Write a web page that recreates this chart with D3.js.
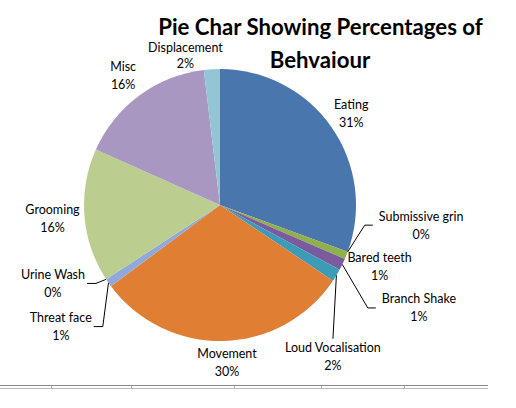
<!DOCTYPE html>
<html><head><meta charset="utf-8">
<script src="https://cdn.jsdelivr.net/npm/d3@7"></script>
<style>
html,body{margin:0;padding:0;background:#fff;}
svg{display:block;}
</style></head>
<body>
<svg id="chart" width="516" height="408"></svg>
<script>
// ---- data ----
const categories = ["Eating","Submissive grin","Bared teeth","Branch Shake","Loud Vocalisation","Movement","Threat face","Urine Wash","Grooming","Misc","Displacement"];
const values = [30.6, 0, 0.9, 1.4, 1.5, 30.4, 1.0, 0, 15.9, 16.4, 1.9];
const percentLabels = ["31%","0%","1%","1%","2%","30%","1%","0%","16%","16%","2%"];
const sliceColors = ["#4a76ae","#c0504d","#8fb04a","#7a5c9e","#3c9cb8","#e07e34","#8fa9da","#d88d8b","#bbce90","#a897c0","#93c5d7"];
const titleLines = ["Pie Char Showing Percentages of","Behvaiour"];

// ---- layout ----
const W = 516, H = 408;
const cx = 220, cy = 205, R = 136, labelR = 160;
const labelNudge = {
  "Grooming":[-8,1], "Displacement":[-25,10], "Movement":[3,-2], "Misc":[-2,-1],
  "Submissive grin":[51,-35], "Bared teeth":[11,2], "Branch Shake":[55,33],
  "Loud Vocalisation":[-24,69], "Threat face":[-28,30], "Urine Wash":[-33,-9]
};
const leaders = {"Submissive grin":"h","Branch Shake":"h","Loud Vocalisation":"v","Threat face":"h","Urine Wash":"h"};

const font = "Lato, 'Open Sans', sans-serif";
const svg = d3.select("#chart");
svg.append("rect").attr("width",W).attr("height",H).attr("fill","#fff");

// sheet grid lines at bottom
const gridTicks = [51.5,131.5,234.5,321.5,404.5];
svg.append("line").attr("x1",0).attr("x2",488).attr("y1",385.5).attr("y2",385.5).attr("stroke","#8c8c8c").attr("stroke-width",1);
svg.append("line").attr("x1",0).attr("x2",488).attr("y1",388.5).attr("y2",388.5).attr("stroke","#b8b8b8").attr("stroke-width",1);
gridTicks.forEach(x=>svg.append("line").attr("x1",x).attr("x2",x).attr("y1",386).attr("y2",388).attr("stroke","#b0b0b0"));

const data = categories.map((c,i)=>({name:c, v:values[i], pct:percentLabels[i], color:sliceColors[i]}));
const pie = d3.pie().sort(null).value(d=>d.v);
const arcs = pie(data);
const arc = d3.arc().innerRadius(0).outerRadius(R);

const g = svg.append("g").attr("transform",`translate(${cx},${cy})`);
g.selectAll("path").data(arcs).enter().append("path")
  .attr("d",arc).attr("fill",d=>d.data.color).attr("stroke","none");

// labels
const lineGap = 18;
const labG = svg.append("g").attr("font-family",font).attr("font-size","12.5px").attr("fill","#000");
arcs.forEach(a=>{
  const mid = (a.startAngle+a.endAngle)/2;
  const n = labelNudge[a.data.name] || [0,0];
  const lx = cx + labelR*Math.sin(mid) + n[0];
  const ly = cy - labelR*Math.cos(mid) + n[1];
  const gap = a.data.name === "Displacement" ? 16 : lineGap;
  const t1 = labG.append("text").attr("x",lx).attr("y",ly - gap/2).attr("text-anchor","middle").attr("dominant-baseline","central").text(a.data.name);
  labG.append("text").attr("x",lx).attr("y",ly + gap/2).attr("text-anchor","middle").attr("dominant-baseline","central").text(a.data.pct);
  const type = leaders[a.data.name];
  if(type){
    const sx = cx + R*Math.sin(mid), sy = cy - R*Math.cos(mid);
    const w = t1.node().getComputedTextLength();
    let pts;
    if(type==="v"){
      pts = [[sx,sy],[lx,ly - lineGap/2 - 9]];
    } else {
      const right = lx > sx;
      const ex = right ? lx - w/2 - 6 : lx + w/2 + 2;
      const ey = ly;
      const elx = right ? ex - 8 : ex + 9;
      pts = [[sx,sy],[elx,ey],[ex,ey]];
    }
    svg.append("path").attr("d",d3.line()(pts)).attr("fill","none").attr("stroke","#000").attr("stroke-width",1);
  }
});

// title
const tg = svg.append("g").attr("font-family",font).attr("font-weight","bold").attr("font-size","22.2px").attr("fill","#000");
tg.append("text").attr("x",320.5).attr("y",26).attr("text-anchor","middle").attr("dominant-baseline","central").text(titleLines[0]);
tg.append("text").attr("x",320).attr("y",59).attr("text-anchor","middle").attr("dominant-baseline","central").text(titleLines[1]);
</script>
</body></html>
